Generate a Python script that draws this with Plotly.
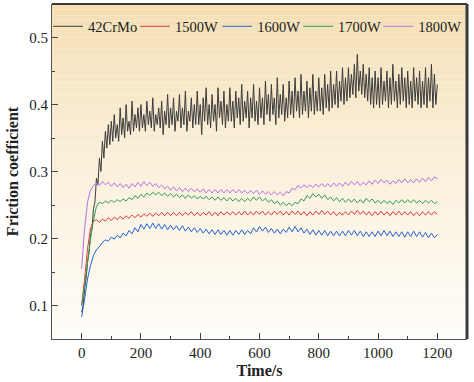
import plotly.graph_objects as go

# ---------------- data ----------------
TIME_42 = list(range(0, 1201, 5))
TIME = list(range(0, 1201, 10))

CRMO_42 = [
    0.090, 0.100, 0.125, 0.140, 0.165, 0.180, 0.205, 0.215, 0.245, 0.255, 0.290, 0.280, 0.320, 0.300, 0.345, 0.320, 0.360, 0.335, 0.370, 0.340,
    0.375, 0.345, 0.385, 0.350, 0.370, 0.345, 0.395, 0.355, 0.380, 0.350, 0.400, 0.360, 0.375, 0.355, 0.405, 0.360, 0.385, 0.365, 0.395, 0.360,
    0.400, 0.365, 0.385, 0.360, 0.405, 0.370, 0.390, 0.365, 0.410, 0.360, 0.385, 0.370, 0.395, 0.365, 0.405, 0.355, 0.390, 0.370, 0.415, 0.365,
    0.395, 0.370, 0.410, 0.360, 0.390, 0.375, 0.415, 0.365, 0.395, 0.370, 0.420, 0.360, 0.390, 0.375, 0.410, 0.365, 0.400, 0.370, 0.420, 0.370,
    0.400, 0.355, 0.410, 0.375, 0.425, 0.370, 0.400, 0.365, 0.415, 0.375, 0.400, 0.360, 0.425, 0.380, 0.405, 0.370, 0.420, 0.365, 0.400, 0.375,
    0.425, 0.375, 0.405, 0.365, 0.420, 0.380, 0.410, 0.370, 0.430, 0.375, 0.405, 0.380, 0.420, 0.365, 0.410, 0.380, 0.430, 0.375, 0.405, 0.370,
    0.425, 0.380, 0.410, 0.370, 0.435, 0.385, 0.415, 0.375, 0.430, 0.385, 0.410, 0.370, 0.440, 0.380, 0.415, 0.385, 0.430, 0.375, 0.410, 0.380,
    0.435, 0.385, 0.420, 0.380, 0.440, 0.390, 0.420, 0.380, 0.445, 0.385, 0.420, 0.390, 0.435, 0.380, 0.425, 0.390, 0.445, 0.385, 0.420, 0.390,
    0.440, 0.390, 0.425, 0.385, 0.445, 0.395, 0.430, 0.390, 0.450, 0.395, 0.430, 0.400, 0.450, 0.395, 0.435, 0.405, 0.455, 0.400, 0.440, 0.405,
    0.455, 0.410, 0.445, 0.415, 0.460, 0.410, 0.475, 0.420, 0.450, 0.415, 0.460, 0.410, 0.445, 0.405, 0.455, 0.400, 0.440, 0.395, 0.450, 0.400,
    0.440, 0.395, 0.455, 0.400, 0.435, 0.405, 0.450, 0.395, 0.440, 0.400, 0.460, 0.405, 0.435, 0.395, 0.445, 0.400, 0.455, 0.405, 0.440, 0.395,
    0.450, 0.400, 0.435, 0.395, 0.455, 0.405, 0.440, 0.400, 0.450, 0.395, 0.435, 0.400, 0.455, 0.395, 0.440, 0.405, 0.460, 0.395, 0.445, 0.400,
    0.430,
]

W1500 = [
    0.10, 0.14, 0.185, 0.215, 0.226, 0.228, 0.224, 0.229, 0.226, 0.231,
    0.227, 0.232, 0.228, 0.233, 0.229, 0.234, 0.230, 0.235, 0.231, 0.236,
    0.232, 0.237, 0.233, 0.238, 0.233, 0.238, 0.234, 0.239, 0.234, 0.239,
    0.234, 0.239, 0.234, 0.239, 0.234, 0.239, 0.235, 0.240, 0.234, 0.239,
    0.234, 0.239, 0.235, 0.240, 0.234, 0.239, 0.234, 0.240, 0.235, 0.240,
    0.235, 0.240, 0.235, 0.240, 0.235, 0.241, 0.235, 0.240, 0.235, 0.241,
    0.236, 0.241, 0.235, 0.240, 0.235, 0.241, 0.236, 0.241, 0.235, 0.240,
    0.235, 0.241, 0.236, 0.241, 0.235, 0.240, 0.234, 0.240, 0.235, 0.241,
    0.236, 0.242, 0.236, 0.241, 0.235, 0.240, 0.234, 0.239, 0.235, 0.240,
    0.235, 0.241, 0.236, 0.242, 0.236, 0.241, 0.235, 0.240, 0.234, 0.240,
    0.235, 0.241, 0.235, 0.240, 0.234, 0.240, 0.235, 0.241, 0.235, 0.240,
    0.235, 0.240, 0.234, 0.239, 0.234, 0.240, 0.235, 0.240, 0.235, 0.240,
    0.236,
]

W1600 = [
    0.083, 0.11, 0.14, 0.16, 0.175, 0.183, 0.188, 0.194, 0.198, 0.196,
    0.202, 0.199, 0.205, 0.201, 0.208, 0.204, 0.212, 0.207, 0.216, 0.210,
    0.221, 0.214, 0.222, 0.215, 0.223, 0.215, 0.222, 0.214, 0.221, 0.213,
    0.220, 0.213, 0.219, 0.212, 0.219, 0.211, 0.217, 0.210, 0.216, 0.209,
    0.215, 0.208, 0.214, 0.207, 0.213, 0.206, 0.213, 0.206, 0.212, 0.205,
    0.212, 0.205, 0.212, 0.206, 0.213, 0.206, 0.212, 0.207, 0.216, 0.210,
    0.218, 0.211, 0.217, 0.209, 0.215, 0.208, 0.214, 0.207, 0.214, 0.209,
    0.217, 0.210, 0.218, 0.210, 0.216, 0.208, 0.214, 0.206, 0.213, 0.205,
    0.212, 0.205, 0.212, 0.204, 0.211, 0.204, 0.211, 0.204, 0.211, 0.204,
    0.212, 0.205, 0.212, 0.204, 0.211, 0.203, 0.210, 0.203, 0.210, 0.203,
    0.211, 0.204, 0.212, 0.204, 0.211, 0.203, 0.210, 0.203, 0.210, 0.202,
    0.210, 0.203, 0.211, 0.203, 0.210, 0.202, 0.209, 0.201, 0.208, 0.201,
    0.206,
]

W1700 = [
    0.10, 0.13, 0.165, 0.20, 0.228, 0.248, 0.254, 0.252, 0.256, 0.253,
    0.257, 0.254, 0.258, 0.255, 0.259, 0.256, 0.261, 0.258, 0.264, 0.260,
    0.266, 0.262, 0.268, 0.264, 0.269, 0.265, 0.269, 0.264, 0.268, 0.263,
    0.267, 0.262, 0.266, 0.261, 0.265, 0.260, 0.265, 0.260, 0.264, 0.259,
    0.263, 0.259, 0.263, 0.258, 0.262, 0.257, 0.262, 0.257, 0.261, 0.256,
    0.261, 0.256, 0.260, 0.255, 0.260, 0.255, 0.260, 0.256, 0.262, 0.257,
    0.262, 0.256, 0.260, 0.254, 0.258, 0.252, 0.256, 0.250, 0.254, 0.249,
    0.253, 0.249, 0.254, 0.252, 0.259, 0.256, 0.264, 0.260, 0.267, 0.262,
    0.266, 0.260, 0.265, 0.258, 0.262, 0.256, 0.261, 0.255, 0.260, 0.254,
    0.259, 0.254, 0.259, 0.253, 0.258, 0.253, 0.260, 0.255, 0.259, 0.253,
    0.257, 0.252, 0.257, 0.252, 0.256, 0.251, 0.257, 0.253, 0.258, 0.253,
    0.258, 0.253, 0.258, 0.253, 0.257, 0.252, 0.257, 0.253, 0.257, 0.252,
    0.255,
]

W1800 = [
    0.155, 0.215, 0.255, 0.272, 0.279, 0.283, 0.279, 0.285, 0.280, 0.284,
    0.278, 0.283, 0.277, 0.282, 0.276, 0.281, 0.275, 0.282, 0.277, 0.284,
    0.278, 0.285, 0.279, 0.284, 0.278, 0.282, 0.276, 0.280, 0.274, 0.278,
    0.272, 0.277, 0.271, 0.276, 0.270, 0.275, 0.270, 0.275, 0.270, 0.274,
    0.269, 0.274, 0.268, 0.273, 0.268, 0.273, 0.268, 0.273, 0.268, 0.273,
    0.268, 0.273, 0.268, 0.273, 0.268, 0.272, 0.267, 0.272, 0.267, 0.272,
    0.266, 0.271, 0.266, 0.270, 0.265, 0.270, 0.265, 0.269, 0.264, 0.270,
    0.268, 0.275, 0.273, 0.279, 0.275, 0.280, 0.276, 0.280, 0.276, 0.281,
    0.277, 0.282, 0.277, 0.282, 0.277, 0.283, 0.278, 0.283, 0.278, 0.284,
    0.279, 0.285, 0.280, 0.285, 0.279, 0.284, 0.280, 0.286, 0.281, 0.287,
    0.282, 0.288, 0.283, 0.287, 0.281, 0.286, 0.282, 0.288, 0.283, 0.289,
    0.283, 0.288, 0.283, 0.289, 0.284, 0.290, 0.285, 0.291, 0.286, 0.292,
    0.289,
]

SERIES_NAMES = ["42CrMo", "1500W", "1600W", "1700W", "1800W"]
X_TICKS = [0, 200, 400, 600, 800, 1000, 1200]
Y_TICKS = [0.1, 0.2, 0.3, 0.4, 0.5]
Y_TICK_TEXT = ["0.1", "0.2", "0.3", "0.4", "0.5"]

# ---------------- styles ----------------
COLORS = ["#3c3c3c", "#e03c3c", "#2262d0", "#2f9e52", "#b473e0"]
LEGEND_X = [-0.0096, 0.200, 0.398, 0.593, 0.786]
FONT = "Liberation Serif, Times New Roman, serif"

fig = go.Figure()
series = [(TIME_42, CRMO_42), (TIME, W1500), (TIME, W1600), (TIME, W1700), (TIME, W1800)]
legend_ids = ["legend", "legend2", "legend3", "legend4", "legend5"]
for name, (xs, ys), c, lid in zip(SERIES_NAMES, series, COLORS, legend_ids):
    fig.add_trace(go.Scatter(x=xs, y=ys, mode="lines", name=name, legend=lid,
                             line=dict(color=c, width=1, simplify=False)))

# gradient background (tan at top fading to white)
top = (244, 222, 178)
bot = (255, 253, 249)
n = 60
shapes = []
for i in range(n):
    f = i / (n - 1)
    g = f ** 0.8
    col = tuple(round(top[k] + (bot[k] - top[k]) * g) for k in range(3))
    shapes.append(dict(type="rect", xref="x domain", yref="y domain",
                       x0=0, x1=1, y0=1 - (i + 1) / n, y1=1 - i / n, line=dict(width=0),
                       fillcolor="rgb(%d,%d,%d)" % col, layer="below"))
shapes.append(dict(type="line", xref="x domain", yref="y domain",
                   x0=1, x1=1, y0=0, y1=1, line=dict(color="#3a3a3a", width=3)))
shapes.append(dict(type="line", xref="x domain", yref="y domain",
                   x0=0, x1=1, y0=1, y1=1, line=dict(color="#3a3a3a", width=2)))

legend_layout = {}
for lid, lx in zip(legend_ids, LEGEND_X):
    legend_layout[lid] = dict(orientation="h", x=lx, y=0.981, xanchor="left", yanchor="top",
                              bgcolor="rgba(0,0,0,0)", itemwidth=30,
                              font=dict(family=FONT, size=14.5, color="#222"))

fig.update_layout(
    width=474, height=382,
    margin=dict(l=52, r=7, t=4, b=43),
    paper_bgcolor="white", plot_bgcolor="white",
    font=dict(family=FONT, size=15, color="#222"),
    shapes=shapes,
    showlegend=True,
    hovermode=False,
    **legend_layout,
)
fig.update_xaxes(
    range=[-100, 1300], tickvals=X_TICKS, ticks="inside", ticklen=6, tickwidth=1.2,
    tickcolor="#444", showline=True, linecolor="#555", linewidth=1.2,
    showgrid=False, zeroline=False, tickfont=dict(family=FONT, size=15, color="#222"),
    minor=dict(dtick=100, tick0=0, ticks="inside", ticklen=3, tickcolor="#444"),
    title=dict(text="<b>Time/s</b>", font=dict(family=FONT, size=16, color="#222"), standoff=4),
)
fig.update_yaxes(
    range=[0.05, 0.55], tickvals=Y_TICKS, ticktext=Y_TICK_TEXT, ticks="inside", ticklen=6,
    tickwidth=1.2, tickcolor="#444", showline=True, linecolor="#555", linewidth=1.2,
    showgrid=False, zeroline=False,
    tickfont=dict(family=FONT, size=15, color="#222"),
    minor=dict(dtick=0.05, tick0=0.05, ticks="inside", ticklen=3, tickcolor="#444"),
    title=dict(text="<b>Friction coefficient</b>", font=dict(family=FONT, size=16, color="#222"), standoff=6),
)

fig.write_html("out.html", config={"displayModeBar": False},
               post_script="document.body.style.margin='0';document.body.style.padding='0';")
